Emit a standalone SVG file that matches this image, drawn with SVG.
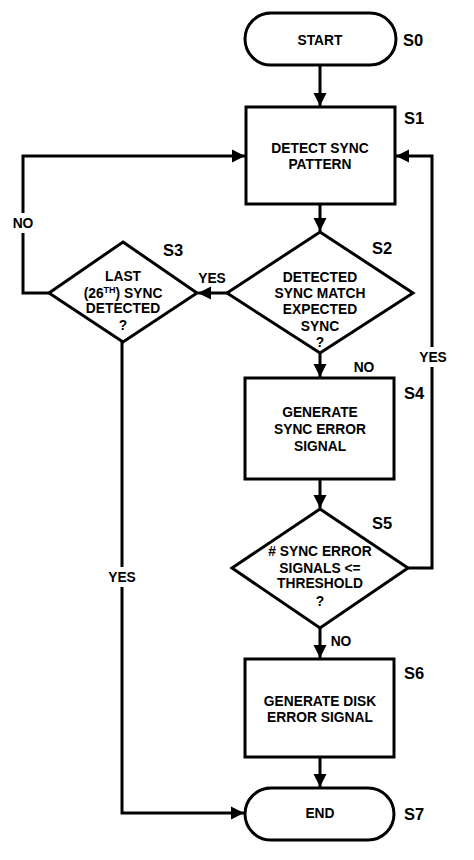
<svg xmlns="http://www.w3.org/2000/svg" width="474" height="860" viewBox="0 0 474 860">
<style>
.shape{fill:#fff;stroke:#000;stroke-width:3}
.line{fill:none;stroke:#000;stroke-width:3}
.t{font-family:"Liberation Sans",Arial,sans-serif;font-weight:bold;font-size:13.8px;text-anchor:middle;fill:#000}
.s{font-family:"Liberation Sans",Arial,sans-serif;font-weight:bold;font-size:16.5px;fill:#000}
.bg{fill:#fff}
</style>
<defs>
<marker id="arr" markerUnits="userSpaceOnUse" markerWidth="14" markerHeight="14" viewBox="0 0 14 14" refX="13" refY="7" orient="auto">
<path d="M0,0.5 L13,7 L0,13.5 Z" fill="#000"/>
</marker>
</defs>
<rect width="474" height="860" fill="#fff"/>
<g id="connectors">
<path class="line" d="M320,65 V106" marker-end="url(#arr)"/>
<path class="line" d="M320,204 V231" marker-end="url(#arr)"/>
<path class="line" d="M227,293 H198" marker-end="url(#arr)"/>
<path class="line" d="M49,293 H23 V156 H245" marker-end="url(#arr)"/>
<path class="line" d="M320,353 V377" marker-end="url(#arr)"/>
<path class="line" d="M320,479 V508" marker-end="url(#arr)"/>
<path class="line" d="M408,568 H432 V156 H396" marker-end="url(#arr)"/>
<path class="line" d="M320,628 V658" marker-end="url(#arr)"/>
<path class="line" d="M320,757 V787" marker-end="url(#arr)"/>
<path class="line" d="M122,342 V813 H244" marker-end="url(#arr)"/>
<text class="t" x="212" y="283">YES</text>
<rect class="bg" x="10" y="213" width="26" height="20"/>
<text class="t" x="23" y="228">NO</text>
<text class="t" x="364" y="372">NO</text>
<rect class="bg" x="418" y="347" width="30" height="20"/>
<text class="t" x="433" y="362">YES</text>
<text class="t" x="341" y="646">NO</text>
<rect class="bg" x="106" y="567" width="32" height="20"/>
<text class="t" x="122" y="582">YES</text>
</g>
<g id="S0">
<rect class="shape" x="245" y="13" width="151" height="52" rx="26" ry="26"/>
<text class="t" x="320" y="45">START</text>
<text class="s" x="403" y="46">S0</text>
</g>
<g id="S1">
<rect class="shape" x="246" y="107" width="149" height="97"/>
<text class="t" x="320" y="153">DETECT SYNC</text>
<text class="t" x="320" y="169">PATTERN</text>
<text class="s" x="404" y="124">S1</text>
</g>
<g id="S2">
<polygon class="shape" points="320,232 413,293 320,353 227,293"/>
<text class="t" x="320" y="282">DETECTED</text>
<text class="t" x="320" y="298">SYNC MATCH</text>
<text class="t" x="320" y="314">EXPECTED</text>
<text class="t" x="320" y="331">SYNC</text>
<text class="t" x="320" y="347">?</text>
<text class="s" x="372" y="254">S2</text>
</g>
<g id="S3">
<polygon class="shape" points="123,242 197,293 123,342 49,293"/>
<text class="t" x="123" y="281">LAST</text>
<text class="t" x="123" y="298">(26<tspan font-size="9" dy="-5">TH</tspan><tspan dy="5">) SYNC</tspan></text>
<text class="t" x="123" y="313">DETECTED</text>
<text class="t" x="123" y="330">?</text>
<text class="s" x="163" y="256">S3</text>
</g>
<g id="S4">
<rect class="shape" x="245" y="378" width="149" height="101"/>
<text class="t" x="320" y="417">GENERATE</text>
<text class="t" x="320" y="434">SYNC ERROR</text>
<text class="t" x="320" y="451">SIGNAL</text>
<text class="s" x="404" y="399">S4</text>
</g>
<g id="S5">
<polygon class="shape" points="320,509 408,568 320,628 232,568"/>
<text class="t" x="320" y="556"># SYNC ERROR</text>
<text class="t" x="320" y="573">SIGNALS &lt;=</text>
<text class="t" x="320" y="588">THRESHOLD</text>
<text class="t" x="320" y="606">?</text>
<text class="s" x="372" y="529">S5</text>
</g>
<g id="S6">
<rect class="shape" x="245" y="659" width="149" height="98"/>
<text class="t" x="320" y="706">GENERATE DISK</text>
<text class="t" x="320" y="722">ERROR SIGNAL</text>
<text class="s" x="404" y="679">S6</text>
</g>
<g id="S7">
<rect class="shape" x="245" y="788" width="149" height="52" rx="26" ry="26"/>
<text class="t" x="320" y="818">END</text>
<text class="s" x="404" y="820">S7</text>
</g>
</svg>
